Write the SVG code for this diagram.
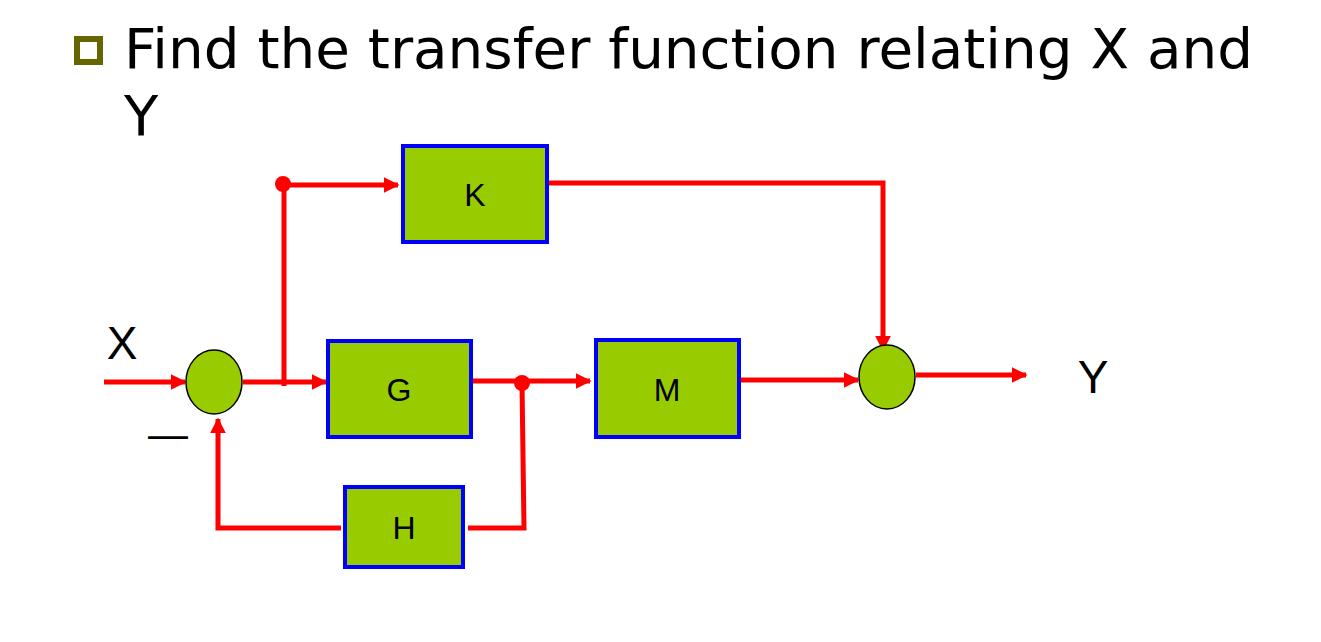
<svg xmlns="http://www.w3.org/2000/svg" width="1321" height="642" viewBox="0 0 1321 642">
<style>
.box{fill:#99CC00;stroke:#0000FF;stroke-width:4}
.sum{fill:#99CC00;stroke:#000;stroke-width:1.5}
.w{stroke:#FF0000;stroke-width:5;fill:none}
.lb{font-family:"Liberation Sans",Arial,sans-serif;font-size:32px;fill:#000;text-anchor:middle}
.big{font-family:"DejaVu Sans",Verdana,sans-serif;font-size:56px;fill:#000}
</style>
<defs>
<marker id="a" viewBox="0 0 10 10" refX="9" refY="5" markerWidth="3.2" markerHeight="3.2" orient="auto" markerUnits="strokeWidth"><path d="M0,0L10,5L0,10z" fill="#FF0000"/></marker>
</defs>
<rect x="77" y="39" width="23" height="23" fill="none" stroke="#666600" stroke-width="6"/>
<text class="big" x="124" y="68" textLength="1129" lengthAdjust="spacingAndGlyphs">Find the transfer function relating X and</text>
<text class="big" x="124" y="135">Y</text>
<g id="connectors">
<path class="w" d="M104,382H185" marker-end="url(#a)"/>
<path class="w" d="M243,382H326" marker-end="url(#a)"/>
<path class="w" d="M284,386V184"/>
<path class="w" d="M283,185H398" marker-end="url(#a)"/>
<path class="w" d="M543,183H883V350" marker-end="url(#a)"/>
<path class="w" d="M472,381H590" marker-end="url(#a)"/>
<path class="w" d="M522,383L524,528H468"/>
<path class="w" d="M341,528H218V419" marker-end="url(#a)"/>
<path class="w" d="M741,380H858" marker-end="url(#a)"/>
<path class="w" d="M916,375H1026" marker-end="url(#a)"/>
<circle cx="283" cy="184" r="8" fill="#FF0000"/>
<circle cx="522" cy="383" r="8" fill="#FF0000"/>
</g>
<g id="sum1"><ellipse class="sum" cx="214" cy="382" rx="28" ry="32"/></g>
<g id="sum2"><ellipse class="sum" cx="887" cy="377" rx="28" ry="32"/></g>
<g id="K"><rect class="box" x="403" y="146" width="144" height="96"/><text class="lb" x="475" y="206">K</text></g>
<g id="G"><rect class="box" x="328" y="341" width="143" height="96"/><text class="lb" x="399" y="401">G</text></g>
<g id="M"><rect class="box" x="596" y="340" width="143" height="97"/><text class="lb" x="667" y="401">M</text></g>
<g id="H"><rect class="box" x="345" y="487" width="118" height="80"/><text class="lb" x="404" y="539">H</text></g>
<text class="lb" style="font-size:46px" x="122" y="359">X</text>
<text class="lb" style="font-size:46px" x="1093" y="393">Y</text>
<text class="lb" style="font-size:40px" x="168" y="448">—</text>
</svg>
